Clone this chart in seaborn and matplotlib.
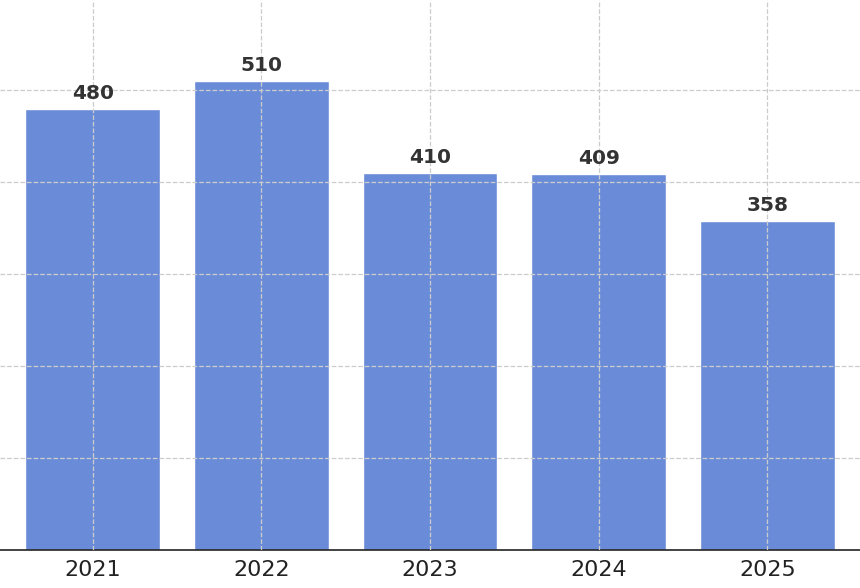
import matplotlib
matplotlib.use('Agg')
import matplotlib.pyplot as plt
import pandas as pd
import seaborn as sns

# Datos
years = ['2021', '2022', '2023', '2024', '2025']
values = [480, 510, 410, 409, 358]

df = pd.DataFrame({'year': years, 'value': values})

sns.set_style('white')
plt.rcParams['font.family'] = ['DejaVu Sans']

fig = plt.figure(figsize=(8.6, 5.88), dpi=100)
ax = fig.add_axes([0, 38 / 588, 1, 550 / 588])

sns.barplot(x='year', y='value', data=df, ax=ax, color='#6a8cd8',
            width=0.8, saturation=1)

# Etiquetas sobre las barras
for i, v in enumerate(values):
    ax.text(i, v + 6, str(v), ha='center', va='bottom', fontsize=14.5,
            fontweight='bold', color='#333333')

ax.set_xlim(-0.55, 4.55)
ax.set_ylim(0, 598)
ax.set_yticks([100, 200, 300, 400, 500])
ax.set_yticklabels([])
ax.tick_params(axis='y', length=0)
ax.tick_params(axis='x', labelsize=16, length=4, color='#222222', labelcolor='#222222')
ax.set_xlabel('')
ax.set_ylabel('')

ax.set_axisbelow(False)
ax.grid(True, linestyle='--', color='#cccccc', linewidth=0.9)

for s in ['top', 'right', 'left']:
    ax.spines[s].set_visible(False)
ax.spines['bottom'].set_color('#222222')
ax.spines['bottom'].set_linewidth(1.2)

fig.savefig('out.png', dpi=100)
